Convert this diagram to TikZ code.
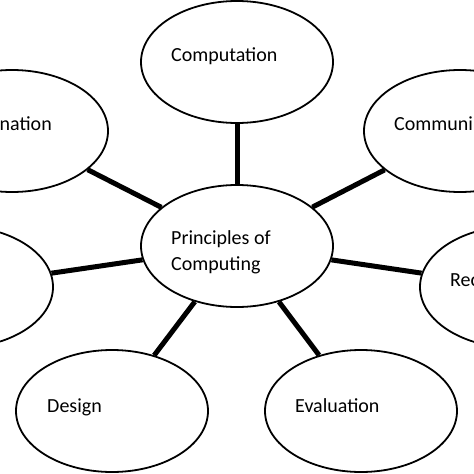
\documentclass[tikz,border=0pt]{standalone}
\usepackage{fontspec}
\setmainfont{Carlito}
\usetikzlibrary{shapes.geometric}
\begin{document}
\begin{tikzpicture}[x=1pt,y=-1pt,
  bubble/.style={ellipse,draw=black,line width=1.8pt,fill=white,minimum width=192pt,minimum height=122pt,inner sep=0pt},
  link/.style={line width=5pt,black},
  lbl/.style={inner sep=0pt,font=\fontsize{20}{26}\selectfont}]
\useasboundingbox[clip] (0,0) rectangle (474,474);
\fill[white] (0,0) rectangle (474,474);
\node[bubble] (ctr) at (237,246) {};
\node[bubble] (comp) at (237,62) {};
\node[bubble] (imag) at (12,131) {};
\node[bubble] (comm) at (460,131) {};
\node[bubble] (lmid) at (-43,287) {};
\node[bubble] (rec) at (516,287) {};
\node[bubble] (des) at (112,411) {};
\node[bubble] (eval) at (361,411) {};
\foreach \n in {comp,imag,comm,lmid,rec,des,eval}
  \draw[link] (ctr) -- (\n);
\node[lbl,anchor=base west] (tcomp) at (171,61) {Computation};
\node[lbl,anchor=base east] (timag) at (52,130) {nation};
\node[lbl,anchor=base west] (tcomm) at (394,130) {Communi};
\node[lbl,anchor=base west] (trec) at (450,286) {Rec};
\node[lbl,anchor=base west] (tp1) at (171,244) {Principles of};
\node[lbl,anchor=base west] (tp2) at (171,270) {Computing};
\node[lbl,anchor=base west] (tdes) at (47,412) {Design};
\node[lbl,anchor=base west] (teval) at (295,412) {Evaluation};
\end{tikzpicture}
\end{document}
